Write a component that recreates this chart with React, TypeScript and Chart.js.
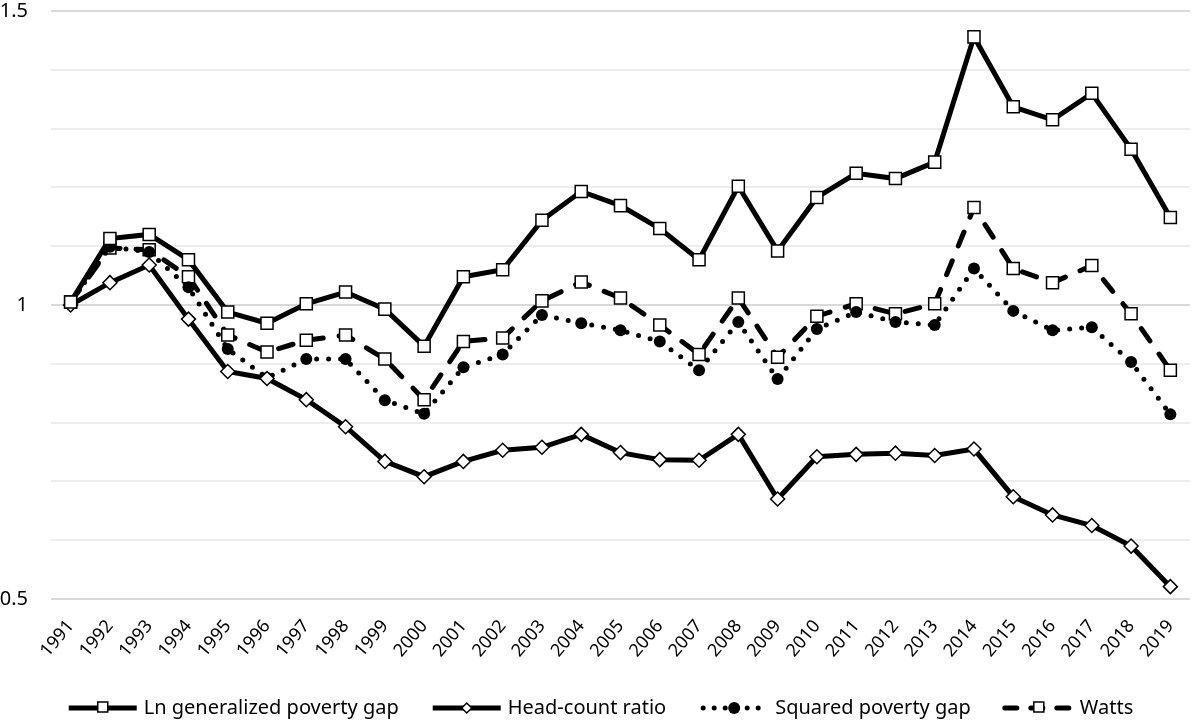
import React, { useEffect, useRef } from "react";
import { Chart, registerables } from "chart.js";

Chart.register(...registerables);

const years = [
  "1991", "1992", "1993", "1994", "1995", "1996", "1997", "1998", "1999", "2000",
  "2001", "2002", "2003", "2004", "2005", "2006", "2007", "2008", "2009", "2010",
  "2011", "2012", "2013", "2014", "2015", "2016", "2017", "2018", "2019",
];

const lnGap = [
  1.005, 1.113, 1.12, 1.077, 0.988, 0.969, 1.002, 1.022, 0.993, 0.93,
  1.048, 1.06, 1.144, 1.193, 1.169, 1.13, 1.077, 1.202, 1.092, 1.183,
  1.224, 1.215, 1.243, 1.456, 1.337, 1.315, 1.36, 1.265, 1.149,
];

const headCount = [
  1.0, 1.038, 1.068, 0.976, 0.887, 0.875, 0.839, 0.793, 0.734, 0.708,
  0.734, 0.753, 0.758, 0.78, 0.749, 0.737, 0.736, 0.78, 0.67, 0.742,
  0.746, 0.748, 0.744, 0.755, 0.674, 0.643, 0.625, 0.59, 0.521,
];

const squaredGap = [
  1.005, 1.099, 1.09, 1.03, 0.925, 0.876, 0.908, 0.908, 0.838, 0.815,
  0.894, 0.916, 0.983, 0.969, 0.957, 0.938, 0.889, 0.971, 0.874, 0.959,
  0.988, 0.971, 0.966, 1.062, 0.99, 0.957, 0.962, 0.903, 0.814,
];

const watts = [
  1.005, 1.097, 1.094, 1.048, 0.949, 0.92, 0.94, 0.949, 0.908, 0.839,
  0.938, 0.944, 1.007, 1.039, 1.012, 0.966, 0.916, 1.012, 0.911, 0.981,
  1.002, 0.985, 1.002, 1.166, 1.062, 1.038, 1.067, 0.985, 0.889,
];

const seriesNames = [
  "Ln generalized poverty gap",
  "Head-count ratio",
  "Squared poverty gap",
  "Watts",
];

const FONT = '"Noto Sans", "Open Sans", sans-serif';

type LegendSpec = {
  label: string;
  dash: number[];
  cap: CanvasLineCap;
  marker: "rect" | "diamond" | "circle";
};

const legendSpecs: LegendSpec[] = [
  { label: seriesNames[0], dash: [], cap: "butt", marker: "rect" },
  { label: seriesNames[1], dash: [], cap: "butt", marker: "diamond" },
  { label: seriesNames[2], dash: [0, 11], cap: "round", marker: "circle" },
  { label: seriesNames[3], dash: [12, 14], cap: "round", marker: "rect" },
];

const isMajor = (n: number) => Math.abs(n * 2 - Math.round(n * 2)) < 1e-6;

const legendPlugin = {
  id: "customLegend",
  afterDraw(chart: any) {
    const ctx: CanvasRenderingContext2D = chart.ctx;
    ctx.save();
    ctx.font = `20px ${FONT}`;
    ctx.textBaseline = "middle";
    const sampleW = 68;
    const gap = 7;
    const itemGap = 34;
    const widths = legendSpecs.map((s) => ctx.measureText(s.label).width);
    const total =
      widths.reduce((a, w) => a + sampleW + gap + w, 0) + itemGap * (legendSpecs.length - 1);
    let x = 601 - total / 2;
    const y = 708;
    legendSpecs.forEach((s, i) => {
      ctx.strokeStyle = "#000";
      ctx.lineWidth = 5;
      ctx.lineCap = s.cap;
      ctx.setLineDash(s.dash);
      ctx.beginPath();
      if (s.marker === "circle") {
        ctx.moveTo(x + 3, y);
        ctx.lineTo(x + sampleW, y);
      } else {
        ctx.moveTo(x, y);
        ctx.lineTo(x + sampleW, y);
      }
      ctx.stroke();
      ctx.setLineDash([]);
      const cx = x + sampleW / 2;
      ctx.lineWidth = 1.5;
      if (s.marker === "rect") {
        ctx.fillStyle = "#fff";
        ctx.fillRect(cx - 5, y - 6, 10, 10);
        ctx.strokeRect(cx - 5, y - 6, 10, 10);
      } else if (s.marker === "diamond") {
        ctx.fillStyle = "#fff";
        ctx.beginPath();
        ctx.moveTo(cx, y - 5);
        ctx.lineTo(cx + 5, y);
        ctx.lineTo(cx, y + 5);
        ctx.lineTo(cx - 5, y);
        ctx.closePath();
        ctx.fill();
        ctx.stroke();
      } else {
        ctx.fillStyle = "#000";
        ctx.beginPath();
        ctx.arc(cx, y, 6, 0, Math.PI * 2);
        ctx.fill();
      }
      ctx.fillStyle = "#000";
      ctx.textAlign = "left";
      ctx.fillText(s.label, x + sampleW + gap, y);
      x += sampleW + gap + widths[i] + itemGap;
    });
    ctx.restore();
  },
};

export default function App() {
  const canvasRef = useRef<HTMLCanvasElement | null>(null);

  useEffect(() => {
    if (!canvasRef.current) return;
    const chart = new Chart(canvasRef.current, {
      type: "line",
      data: {
        labels: years,
        datasets: [
          {
            label: seriesNames[0],
            data: lnGap,
            borderColor: "#000",
            borderWidth: 5,
            pointStyle: "rect",
            pointRadius: 8.5,
            pointBackgroundColor: "#fff",
            pointBorderColor: "#000",
            pointBorderWidth: 1.5,
            tension: 0,
          },
          {
            label: seriesNames[1],
            data: headCount,
            borderColor: "#000",
            borderWidth: 5,
            pointStyle: "rectRot",
            pointRadius: 7,
            pointBackgroundColor: "#fff",
            pointBorderColor: "#000",
            pointBorderWidth: 1.5,
            tension: 0,
          },
          {
            label: seriesNames[2],
            data: squaredGap,
            borderColor: "#000",
            borderWidth: 5,
            borderDash: [0, 12],
            borderCapStyle: "round",
            pointStyle: "circle",
            pointRadius: 6,
            pointBackgroundColor: "#000",
            pointBorderColor: "#000",
            pointBorderWidth: 0,
            tension: 0,
          },
          {
            label: seriesNames[3],
            data: watts,
            borderColor: "#000",
            borderWidth: 5,
            borderDash: [15, 16],
            borderCapStyle: "round",
            pointStyle: "rect",
            pointRadius: 8.5,
            pointBackgroundColor: "#fff",
            pointBorderColor: "#000",
            pointBorderWidth: 1.5,
            tension: 0,
          },
        ],
      },
      options: {
        responsive: false,
        animation: false,
        layout: { padding: { left: 0, right: 3, top: 11, bottom: 0 } },
        plugins: {
          legend: { display: false },
          tooltip: { enabled: false },
        },
        scales: {
          x: {
            offset: true,
            grid: { display: false },
            border: { display: false },
            ticks: {
              autoSkip: false,
              maxRotation: 50,
              minRotation: 50,
              padding: 9,
              color: "#000",
              font: { family: FONT, size: 18 },
            },
            afterFit: (s: any) => {
              s.height = 122;
            },
          },
          y: {
            min: 0.5,
            max: 1.5,
            grid: {
              color: (c: any) => (c.tick && isMajor(c.tick.value) ? "#d9d9d9" : "#ededed"),
              lineWidth: 2,
              drawTicks: false,
            },
            border: { display: false },
            ticks: {
              stepSize: 0.1,
              padding: 23,
              color: "#000",
              font: { family: FONT, size: 20 },
              callback: (v: any) => {
                const n = Number(v);
                if (isMajor(n)) {
                  return Math.abs(n - 1) < 1e-6 ? "1" : n.toFixed(1);
                }
                return "";
              },
            },
            afterFit: (s: any) => {
              s.width = 51;
              s.paddingTop = 0;
              s.paddingBottom = 0;
            },
          },
        },
      },
      plugins: [legendPlugin],
    });
    return () => chart.destroy();
  }, []);

  return (
    <div style={{ position: "absolute", left: 0, top: 0, width: 1200, height: 721, background: "#fff" }}>
      <canvas ref={canvasRef} width={1200} height={721} style={{ display: "block" }} />
    </div>
  );
}
